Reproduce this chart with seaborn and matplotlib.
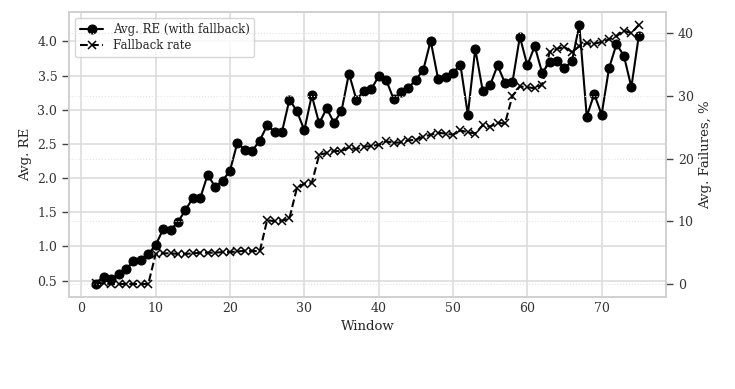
import numpy as np
import pandas as pd
import matplotlib
matplotlib.use("Agg")
import matplotlib.pyplot as plt
import seaborn as sns

windows = list(range(2, 76))
avg_re = [0.45, 0.56, 0.53, 0.59, 0.67, 0.78, 0.80, 0.89, 1.02, 1.25,
          1.24, 1.36, 1.53, 1.71, 1.71, 2.05, 1.87, 1.96, 2.11, 2.52,
          2.41, 2.40, 2.55, 2.77, 2.68, 2.68, 3.15, 2.98, 2.70, 3.21,
          2.80, 3.02, 2.81, 2.98, 3.53, 3.15, 3.27, 3.30, 3.49, 3.44,
          3.16, 3.26, 3.32, 3.44, 3.58, 4.01, 3.45, 3.48, 3.54, 3.66,
          2.93, 3.89, 3.28, 3.36, 3.65, 3.39, 3.40, 4.07, 3.65, 3.93,
          3.54, 3.70, 3.72, 3.61, 3.71, 4.24, 2.90, 3.23, 2.93, 3.61,
          3.96, 3.79, 3.33, 4.08]
fallback = [0.2, 0.1, 0.0, 0.0, 0.0, 0.0, 0.0, 0.0, 4.8, 4.9,
            4.9, 4.8, 4.8, 4.9, 5.0, 5.0, 5.0, 5.1, 5.1, 5.2,
            5.3, 5.3, 5.2, 10.2, 10.0, 10.1, 10.5, 15.3, 16.0, 16.1,
            20.6, 20.9, 21.2, 21.2, 21.8, 21.5, 21.9, 22.0, 22.2, 22.8,
            22.5, 22.6, 22.9, 23.0, 23.5, 23.8, 24.1, 24.0, 23.8, 24.5,
            24.2, 24.0, 25.3, 25.1, 25.7, 25.6, 30.0, 31.5, 31.4, 31.2,
            31.8, 37.0, 37.5, 37.8, 37.0, 37.9, 38.4, 38.3, 38.6, 39.0,
            39.5, 40.4, 40.0, 41.3]

df = pd.DataFrame({"Window": windows, "RE": avg_re, "FB": fallback})

sns.set_theme(style="whitegrid")
plt.rcParams["font.family"] = ["DejaVu Serif"]
plt.rcParams["font.size"] = 9

fig = plt.figure(figsize=(7.35, 3.89), dpi=100)
ax = fig.add_axes([0.094, 0.2365, 0.812, 0.7325])
ax2 = ax.twinx()

sns.lineplot(data=df, x="Window", y="RE", ax=ax, color="black", marker="o",
             markersize=6.5, linewidth=1.5, markeredgecolor="black", legend=False)
sns.lineplot(data=df, x="Window", y="FB", ax=ax2, color="black", marker="x",
             markersize=5.5, linewidth=1.5, linestyle="--", markeredgecolor="black",
             markeredgewidth=1.1, legend=False)

ax.set_xlabel("Window", fontsize=9.5)
ax.set_ylabel("Avg. RE", fontsize=9.5)
ax2.set_ylabel("Avg. Failures, %", fontsize=9.5)

ax.set_xticks([0, 10, 20, 30, 40, 50, 60, 70])
ax.set_yticks([0.5, 1.0, 1.5, 2.0, 2.5, 3.0, 3.5, 4.0])
ax2.set_yticks([0, 10, 20, 30, 40])

ax.grid(True, color="#dddddd", linewidth=1.2)
ax2.grid(True, color="#e4e4e4", linewidth=0.8, linestyle=":")
ax.tick_params(axis="y", length=5, width=1, color="#444444", labelsize=9, labelcolor="#333333")
ax.tick_params(axis="x", length=0, labelsize=9, labelcolor="#333333")
ax2.tick_params(axis="y", length=5, width=1, color="#444444", labelsize=9, labelcolor="#333333")
for a in (ax, ax2):
    for s in a.spines.values():
        s.set_color("#d0d0d0")
        s.set_linewidth(1.2)

handles = [ax.lines[0], ax2.lines[0]]
labels = ["Avg. RE (with fallback)", "Fallback rate"]
ax.legend(handles, labels, loc="upper left", fontsize=8.5, frameon=True,
          handlelength=2.0, borderpad=0.4, labelspacing=0.3)

fig.savefig("out.png", dpi=100)
